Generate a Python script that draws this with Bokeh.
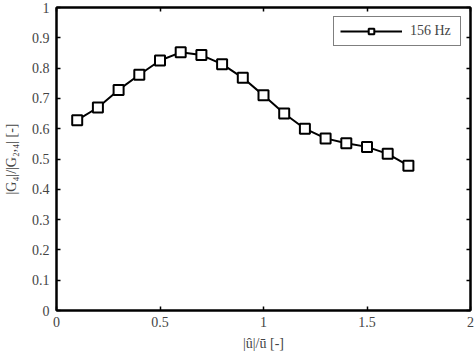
from bokeh.plotting import figure
from bokeh.models import LinearAxis, FixedTicker, Range1d, Legend, LegendItem, CustomJSTickFormatter
from bokeh.embed import file_html
from bokeh.resources import INLINE

amp = [0.1, 0.2, 0.3, 0.4, 0.5, 0.6, 0.7, 0.8, 0.9, 1.0, 1.1, 1.2, 1.3, 1.4, 1.5, 1.6, 1.7]
ratio = [0.628, 0.670, 0.728, 0.778, 0.825, 0.852, 0.843, 0.813, 0.768, 0.710,
         0.650, 0.600, 0.568, 0.552, 0.540, 0.517, 0.478]
series_label = "156 Hz"
x_ticks = [0, 0.5, 1, 1.5, 2]
y_ticks = [0, 0.1, 0.2, 0.3, 0.4, 0.5, 0.6, 0.7, 0.8, 0.9, 1.0]

FONT = "Liberation Serif"

p = figure(width=474, height=355, output_backend="svg", toolbar_location=None,
           x_range=Range1d(0, 2), y_range=Range1d(0, 1),
           min_border_left=54, min_border_right=4, min_border_top=7, min_border_bottom=45)
p.background_fill_color = "white"
p.border_fill_color = "white"
p.grid.visible = False
p.outline_line_color = "black"
p.outline_line_width = 2

p.xaxis.ticker = FixedTicker(ticks=x_ticks)
p.yaxis.ticker = FixedTicker(ticks=y_ticks)
p.xaxis.axis_label = "|û|/ū [-]"
p.yaxis.axis_label = "|G₄|/|G₂,₄| [-]"
for ax in (p.xaxis[0], p.yaxis[0]):
    ax.major_tick_in = 4
    ax.major_tick_out = 0
    ax.minor_tick_line_color = None
    ax.axis_line_width = 2
    ax.major_tick_line_width = 1.5
    ax.major_label_text_font = FONT
    ax.major_label_text_font_size = "14px"
    ax.axis_label_text_font = FONT
    ax.axis_label_text_font_size = "14px"
    ax.axis_label_text_font_style = "normal"
p.xaxis.major_label_standoff = 6
p.yaxis.major_label_standoff = 7
p.yaxis.axis_label_standoff = 10
p.xaxis.axis_label_standoff = 6

blank = CustomJSTickFormatter(code="return ''")
top = LinearAxis(ticker=FixedTicker(ticks=x_ticks), formatter=blank,
                 major_tick_in=4, major_tick_out=0, minor_tick_line_color=None,
                 axis_line_width=2, major_tick_line_width=1.5, major_label_standoff=0)
right = LinearAxis(ticker=FixedTicker(ticks=y_ticks), formatter=blank,
                   major_tick_in=4, major_tick_out=0, minor_tick_line_color=None,
                   axis_line_width=2, major_tick_line_width=1.5, major_label_standoff=0)
p.add_layout(top, "above")
p.add_layout(right, "right")

ln = p.line(amp, ratio, line_color="black", line_width=2)
sq = p.scatter(amp, ratio, marker="square", size=10, fill_color="white",
               line_color="black", line_width=2)

legend = Legend(items=[LegendItem(label=series_label, renderers=[ln, sq])],
                location="top_right")
legend.label_text_font = FONT
legend.label_text_font_size = "14px"
legend.border_line_color = "black"
legend.border_line_width = 1.5
legend.glyph_width = 62
legend.glyph_height = 14
legend.padding = 6
legend.margin = 9
legend.spacing = 0
legend.label_standoff = 8
legend.label_width = 44
legend.background_fill_alpha = 1
p.add_layout(legend, "center")

open("out.html", "w").write(file_html(p, INLINE))
